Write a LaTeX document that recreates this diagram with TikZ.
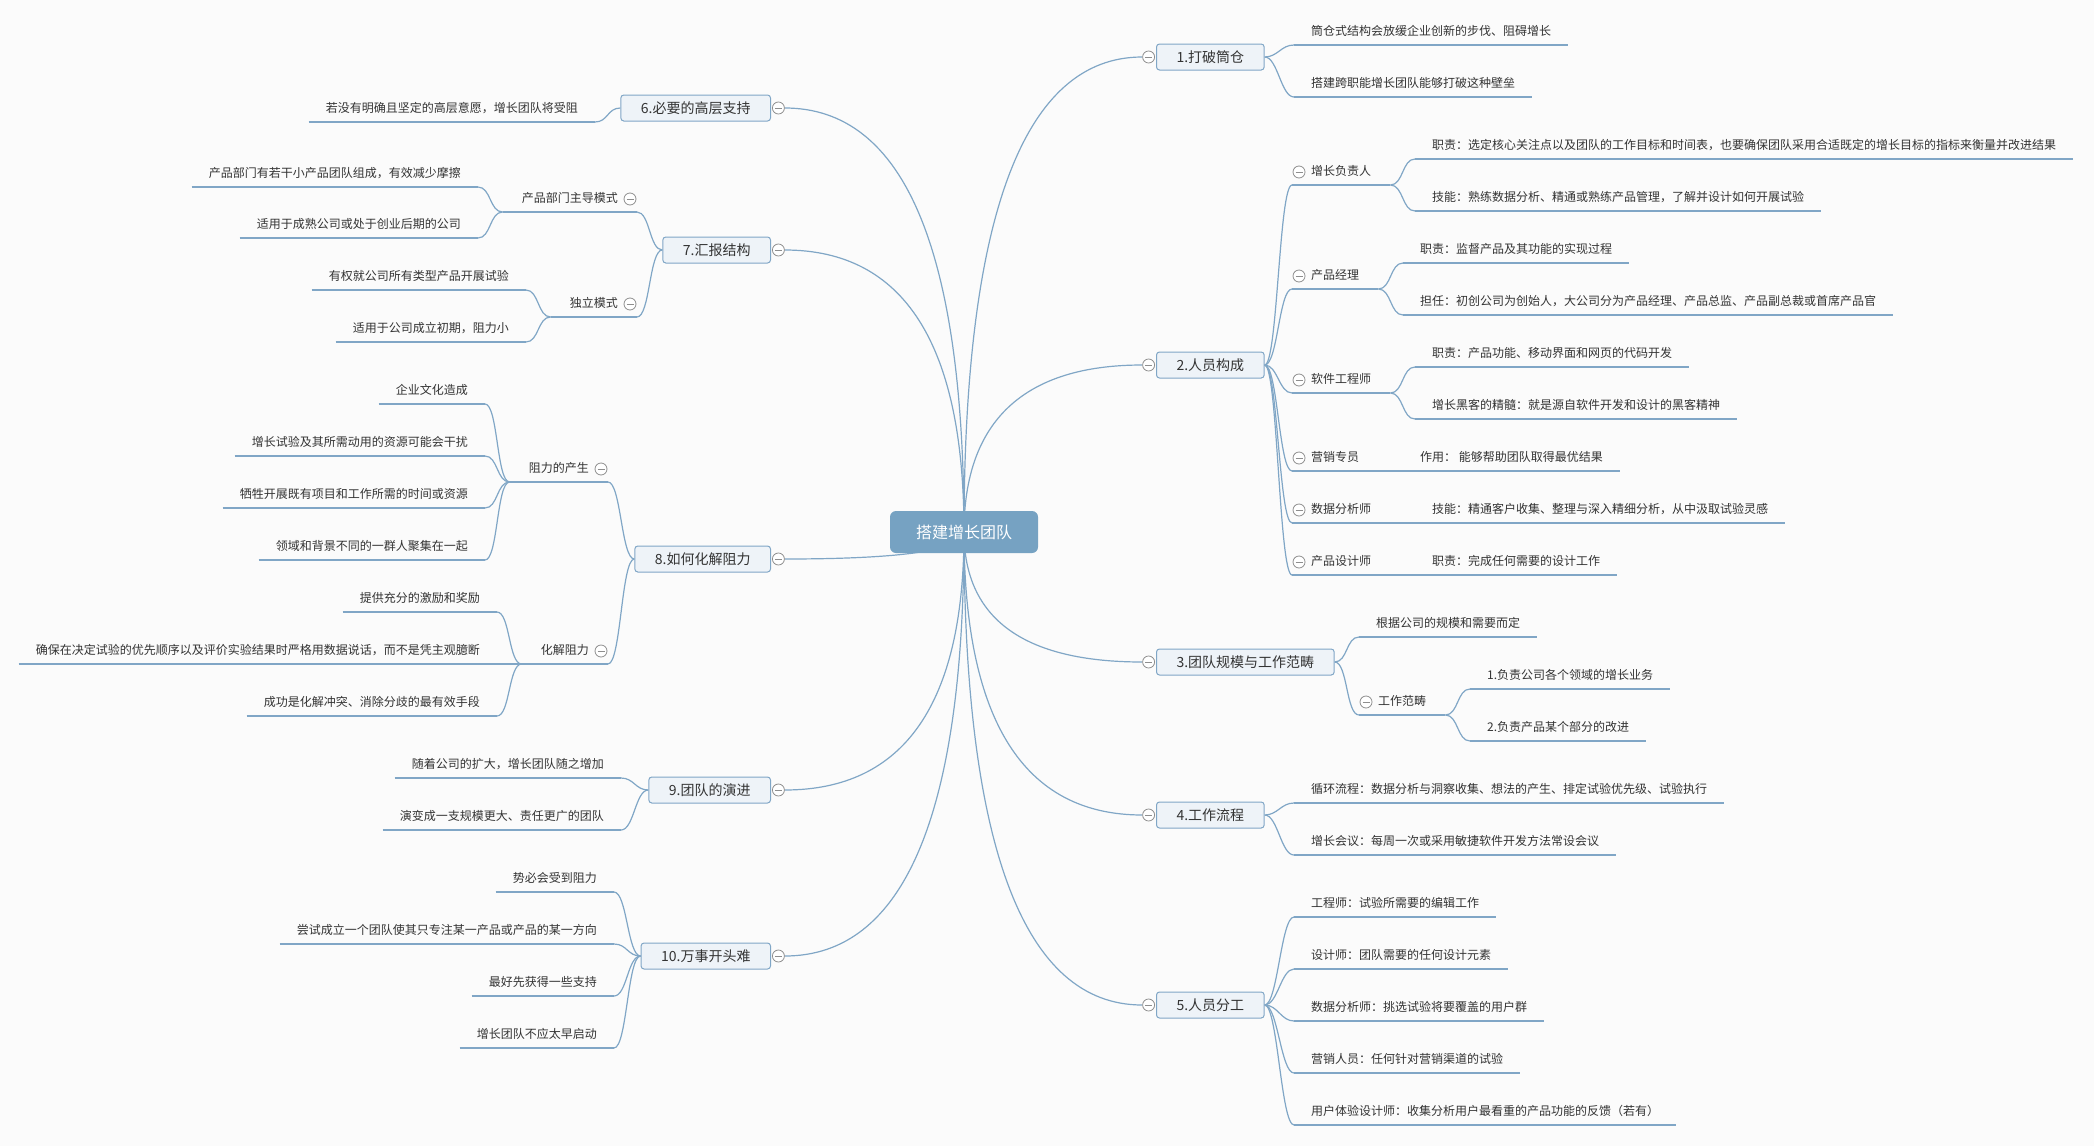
\documentclass[tikz,border=0pt]{standalone}
\usepackage{fontspec}
\setmainfont{Noto Sans CJK SC}
\usepackage{tikz}
\usetikzlibrary{positioning,backgrounds}
\usepackage{xcolor}
\definecolor{lineblue}{HTML}{80A6C6}
\definecolor{boxfill}{HTML}{EEF3F8}
\definecolor{rootfill}{HTML}{76A2C2}
\definecolor{textgray}{HTML}{333333}
\definecolor{foldgray}{HTML}{8E8E8E}
\definecolor{paper}{HTML}{FBFBFB}

\begin{document}
\begin{tikzpicture}[x=1pt,y=-1pt]
\tikzstyle{root} = [
	shape=rectangle,
	rounded corners=6pt,
	fill=rootfill, %fill of the central topic
	text=white,
	font=\fontsize{16}{18}\selectfont,
	inner xsep=26pt, inner ysep=0pt,
	text height=14pt, text depth=2pt,
	minimum height=42pt
];
\tikzstyle{topic} = [
	shape=rectangle,
	rounded corners=3pt,
	draw=lineblue, %border of the topic
	fill=boxfill,
	line width=1pt,
	text=textgray,
	font=\fontsize{14}{16}\selectfont,
	inner xsep=20pt, inner ysep=0pt,
	text height=12pt, text depth=2pt,
	minimum height=26pt
];
\tikzstyle{sub} = [
	text=textgray,
	font=\fontsize{12}{14}\selectfont,
	inner xsep=19pt, inner ysep=6.5pt,
	text height=11pt, text depth=3pt
];
\tikzstyle{leaf} = [sub, inner xsep=17pt];
\tikzstyle{fold} = [
	shape=circle,
	draw=foldgray, fill=white,
	line width=0.8pt,
	minimum size=12pt, inner sep=0pt,
	path picture={\draw[foldgray, line width=0.8pt]
		([xshift=-3.5pt]path picture bounding box.center) --
		([xshift=3.5pt]path picture bounding box.center);}
];
\tikzstyle{conn} = [draw=lineblue, line width=1.2pt];
\tikzstyle{rb} = [to path={.. controls +(13,0) and +(-13,0) .. (\tikztotarget)}];
\tikzstyle{lb} = [to path={.. controls +(-13,0) and +(13,0) .. (\tikztotarget)}];

\useasboundingbox (0,0) rectangle (2094,1146);

\node[root] (root) at (964,532) {搭建增长团队};

%right topics
\node[topic, anchor=west] (m1) at (1156,57) {1.打破筒仓};
\node[topic, anchor=west] (m2) at (1156,365) {2.人员构成};
\node[topic, anchor=west] (m3) at (1156,662) {3.团队规模与工作范畴};
\node[topic, anchor=west] (m4) at (1156,815) {4.工作流程};
\node[topic, anchor=west] (m5) at (1156,1005) {5.人员分工};
\node[fold, left=1pt of m1] (f1) {};
\node[fold, left=1pt of m2] (f2) {};
\node[fold, left=1pt of m3] (f3) {};
\node[fold, left=1pt of m4] (f4) {};
\node[fold, left=1pt of m5] (f5) {};

%left topics
\node[topic, anchor=east] (m6) at (771,108) {6.必要的高层支持};
\node[topic, anchor=east] (m7) at (771,250) {7.汇报结构};
\node[topic, anchor=east] (m8) at (771,559) {8.如何化解阻力};
\node[topic, anchor=east] (m9) at (771,790) {9.团队的演进};
\node[topic, anchor=east] (m10) at (771,956) {10.万事开头难};
\node[fold, right=1pt of m6] (f6) {};
\node[fold, right=1pt of m7] (f7) {};
\node[fold, right=1pt of m8] (f8) {};
\node[fold, right=1pt of m9] (f9) {};
\node[fold, right=1pt of m10] (f10) {};

%1
\node[leaf, anchor=south west] (l11) at (1294,45) {筒仓式结构会放缓企业创新的步伐、阻碍增长};
\node[leaf, anchor=south west] (l12) at (1294,97) {搭建跨职能增长团队能够打破这种壁垒};

%2
\node[sub, anchor=south west] (s21) at (1292,185) {增长负责人};
\node[sub, anchor=south west] (s22) at (1292,289) {产品经理};
\node[sub, anchor=south west] (s23) at (1292,393) {软件工程师};
\node[sub, anchor=south west] (s24) at (1292,471) {营销专员};
\node[sub, anchor=south west] (s25) at (1292,523) {数据分析师};
\node[sub, anchor=south west] (s26) at (1292,575) {产品设计师};
\node[leaf, anchor=south west] (l211) at (1415,159) {职责：选定核心关注点以及团队的工作目标和时间表，也要确保团队采用合适既定的增长目标的指标来衡量并改进结果};
\node[leaf, anchor=south west] (l212) at (1415,211) {技能：熟练数据分析、精通或熟练产品管理，了解并设计如何开展试验};
\node[leaf, anchor=south west] (l221) at (1403,263) {职责：监督产品及其功能的实现过程};
\node[leaf, anchor=south west] (l222) at (1403,315) {担任：初创公司为创始人，大公司分为产品经理、产品总监、产品副总裁或首席产品官};
\node[leaf, anchor=south west] (l231) at (1415,367) {职责：产品功能、移动界面和网页的代码开发};
\node[leaf, anchor=south west] (l232) at (1415,419) {增长黑客的精髓：就是源自软件开发和设计的黑客精神};
\node[leaf, anchor=south west] (l241) at (1403,471) {作用： 能够帮助团队取得最优结果};
\node[leaf, anchor=south west] (l251) at (1415,523) {技能：精通客户收集、整理与深入精细分析，从中汲取试验灵感};
\node[leaf, anchor=south west] (l261) at (1415,575) {职责：完成任何需要的设计工作};

%3
\node[leaf, anchor=south west] (l31) at (1359,637) {根据公司的规模和需要而定};
\node[sub, anchor=south west] (s32) at (1359,715) {工作范畴};
\node[leaf, anchor=south west] (l321) at (1470,689) {1.负责公司各个领域的增长业务};
\node[leaf, anchor=south west] (l322) at (1470,741) {2.负责产品某个部分的改进};

%4
\node[leaf, anchor=south west] (l41) at (1294,803) {循环流程：数据分析与洞察收集、想法的产生、排定试验优先级、试验执行};
\node[leaf, anchor=south west] (l42) at (1294,855) {增长会议：每周一次或采用敏捷软件开发方法常设会议};

%5
\node[leaf, anchor=south west] (l51) at (1294,917) {工程师：试验所需要的编辑工作};
\node[leaf, anchor=south west] (l52) at (1294,969) {设计师：团队需要的任何设计元素};
\node[leaf, anchor=south west] (l53) at (1294,1021) {数据分析师：挑选试验将要覆盖的用户群};
\node[leaf, anchor=south west] (l54) at (1294,1073) {营销人员：任何针对营销渠道的试验};
\node[leaf, anchor=south west] (l55) at (1294,1125) {用户体验设计师：收集分析用户最看重的产品功能的反馈（若有）};

%6
\node[leaf, anchor=south east] (l61) at (595,122) {若没有明确且坚定的高层意愿，增长团队将受阻};

%7
\node[sub, anchor=south east] (s71) at (637,212) {产品部门主导模式};
\node[sub, anchor=south east] (s72) at (637,317) {独立模式};
\node[leaf, anchor=south east] (l711) at (478,187) {产品部门有若干小产品团队组成，有效减少摩擦};
\node[leaf, anchor=south east] (l712) at (478,238) {适用于成熟公司或处于创业后期的公司};
\node[leaf, anchor=south east] (l721) at (526,290) {有权就公司所有类型产品开展试验};
\node[leaf, anchor=south east] (l722) at (526,342) {适用于公司成立初期，阻力小};

%8
\node[sub, anchor=south east] (s81) at (608,482) {阻力的产生};
\node[sub, anchor=south east] (s82) at (608,664) {化解阻力};
\node[leaf, anchor=south east] (l811) at (485,404) {企业文化造成};
\node[leaf, anchor=south east] (l812) at (485,456) {增长试验及其所需动用的资源可能会干扰};
\node[leaf, anchor=south east] (l813) at (485,508) {牺牲开展既有项目和工作所需的时间或资源};
\node[leaf, anchor=south east] (l814) at (485,560) {领域和背景不同的一群人聚集在一起};
\node[leaf, anchor=south east] (l821) at (497,612) {提供充分的激励和奖励};
\node[leaf, anchor=south east] (l822) at (497,664) {确保在决定试验的优先顺序以及评价实验结果时严格用数据说话，而不是凭主观臆断};
\node[leaf, anchor=south east] (l823) at (497,716) {成功是化解冲突、消除分歧的最有效手段};

%9
\node[leaf, anchor=south east] (l91) at (621,778) {随着公司的扩大，增长团队随之增加};
\node[leaf, anchor=south east] (l92) at (621,830) {演变成一支规模更大、责任更广的团队};

%10
\node[leaf, anchor=south east] (l101) at (614,892) {势必会受到阻力};
\node[leaf, anchor=south east] (l102) at (614,944) {尝试成立一个团队使其只专注某一产品或产品的某一方向};
\node[leaf, anchor=south east] (l103) at (614,996) {最好先获得一些支持};
\node[leaf, anchor=south east] (l104) at (614,1048) {增长团队不应太早启动};

%fold marks of the sub topics
\foreach \n in {s21,s22,s23,s24,s25,s26,s32}
	\node[fold] at ([shift={(7,-13)}]\n.south west) {};
\foreach \n in {s71,s72,s81,s82}
	\node[fold] at ([shift={(-7,-13)}]\n.south east) {};

%underlines
\foreach \n in {l11,l12,s21,s22,s23,s24,s25,s26,l211,l212,l221,l222,l231,l232,l241,l251,l261,
	l31,s32,l321,l322,l41,l42,l51,l52,l53,l54,l55,l61,s71,s72,l711,l712,l721,l722,
	s81,s82,l811,l812,l813,l814,l821,l822,l823,l91,l92,l101,l102,l103,l104}
	\draw[conn] (\n.south west) -- (\n.south east);

\begin{pgfonlayer}{background}
\fill[paper] (0,0) rectangle (2094,1146);

%root to topics
\draw[conn] (root.center) .. controls (964,215) and (1024,57) .. (f1.west);
\draw[conn] (root.center) .. controls (964,421) and (1024,365) .. (f2.west);
\draw[conn] (root.center) .. controls (964,619) and (1024,662) .. (f3.west);
\draw[conn] (root.center) .. controls (964,721) and (1024,815) .. (f4.west);
\draw[conn] (root.center) .. controls (964,847) and (1024,1005) .. (f5.west);
\draw[conn] (root.center) .. controls (964,249) and (904,108) .. (f6.east);
\draw[conn] (root.center) .. controls (964,344) and (904,250) .. (f7.east);
\draw[conn] (root.center) .. controls (964,550) and (904,559) .. (f8.east);
\draw[conn] (root.center) .. controls (964,704) and (904,790) .. (f9.east);
\draw[conn] (root.center) .. controls (964,815) and (904,956) .. (f10.east);

%right branches
\draw[conn]
	(m1.east) edge[rb] (l11.south west)
	(m1.east) edge[rb] (l12.south west)
	(m2.east) edge[rb] (s21.south west)
	(m2.east) edge[rb] (s22.south west)
	(m2.east) edge[rb] (s23.south west)
	(m2.east) edge[rb] (s24.south west)
	(m2.east) edge[rb] (s25.south west)
	(m2.east) edge[rb] (s26.south west)
	(s21.south east) edge[rb] (l211.south west)
	(s21.south east) edge[rb] (l212.south west)
	(s22.south east) edge[rb] (l221.south west)
	(s22.south east) edge[rb] (l222.south west)
	(s23.south east) edge[rb] (l231.south west)
	(s23.south east) edge[rb] (l232.south west)
	(s24.south east) edge[rb] (l241.south west)
	(s25.south east) edge[rb] (l251.south west)
	(s26.south east) edge[rb] (l261.south west)
	(m3.east) edge[rb] (l31.south west)
	(m3.east) edge[rb] (s32.south west)
	(s32.south east) edge[rb] (l321.south west)
	(s32.south east) edge[rb] (l322.south west)
	(m4.east) edge[rb] (l41.south west)
	(m4.east) edge[rb] (l42.south west)
	(m5.east) edge[rb] (l51.south west)
	(m5.east) edge[rb] (l52.south west)
	(m5.east) edge[rb] (l53.south west)
	(m5.east) edge[rb] (l54.south west)
	(m5.east) edge[rb] (l55.south west)
;

%left branches
\draw[conn]
	(m6.west) edge[lb] (l61.south east)
	(m7.west) edge[lb] (s71.south east)
	(m7.west) edge[lb] (s72.south east)
	(s71.south west) edge[lb] (l711.south east)
	(s71.south west) edge[lb] (l712.south east)
	(s72.south west) edge[lb] (l721.south east)
	(s72.south west) edge[lb] (l722.south east)
	(m8.west) edge[lb] (s81.south east)
	(m8.west) edge[lb] (s82.south east)
	(s81.south west) edge[lb] (l811.south east)
	(s81.south west) edge[lb] (l812.south east)
	(s81.south west) edge[lb] (l813.south east)
	(s81.south west) edge[lb] (l814.south east)
	(s82.south west) edge[lb] (l821.south east)
	(s82.south west) edge[lb] (l822.south east)
	(s82.south west) edge[lb] (l823.south east)
	(m9.west) edge[lb] (l91.south east)
	(m9.west) edge[lb] (l92.south east)
	(m10.west) edge[lb] (l101.south east)
	(m10.west) edge[lb] (l102.south east)
	(m10.west) edge[lb] (l103.south east)
	(m10.west) edge[lb] (l104.south east)
;
\end{pgfonlayer}
\end{tikzpicture}
\end{document}
